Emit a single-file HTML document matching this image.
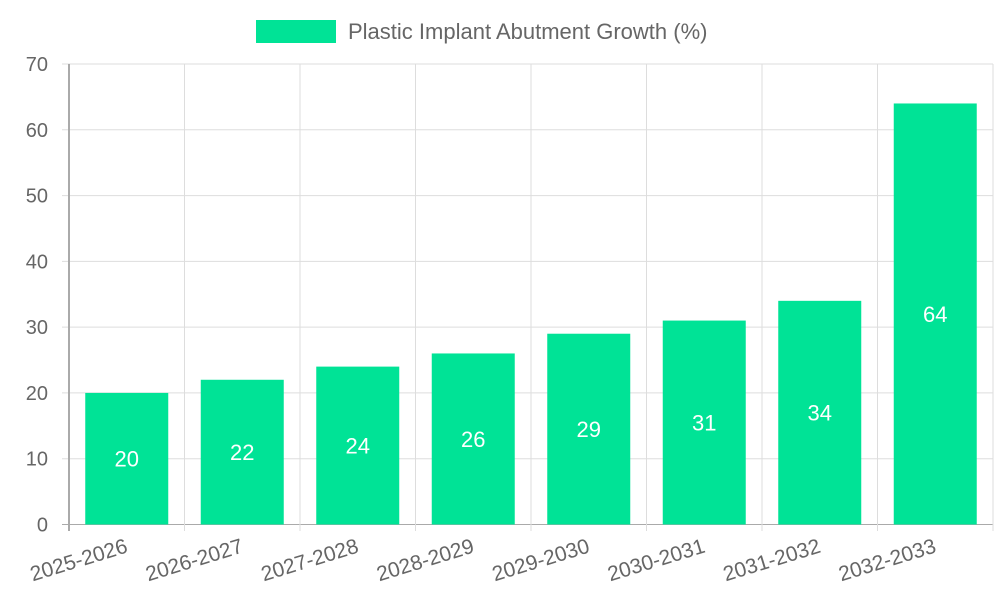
<!DOCTYPE html>
<html><head><meta charset="utf-8"><style>
body{margin:0;background:#fff}
svg{display:block;font-family:"Liberation Sans",sans-serif}
</style></head><body>
<svg id="c" width="1000" height="600"></svg>
<script>
const categories=["2025-2026","2026-2027","2027-2028","2028-2029","2029-2030","2030-2031","2031-2032","2032-2033"];
const values=[20,22,24,26,29,31,34,64];
const yTicks=[0,10,20,30,40,50,60,70];
const svg=document.getElementById('c');
const NS='http://www.w3.org/2000/svg';
const L=69,R=993,T=64,B=524.5,yMax=70;
const bw=(R-L)/categories.length;
const y=v=>B-(B-T)*v/yMax;
const x=i=>L+bw*i;
function mk(t,a,p){const e=document.createElementNS(NS,t);for(const k in a)e.setAttribute(k,a[k]);(p||svg).appendChild(e);return e;}
// legend
const lg=mk('g',{});


mk('rect',{x:256,y:20,width:80,height:23,fill:'#00e396'},lg);
const lt=mk('text',{x:348,y:39,'font-size':22,fill:'#666'},lg);lt.textContent='Plastic Implant Abutment Growth (%)';
// grid
yTicks.forEach(v=>{
 const g=mk('line',{x1:62,x2:R,y1:y(v),y2:y(v),stroke:v===0?'#aaa':'#ddd','stroke-width':1});
 
 
 const t=mk('text',{x:48,y:y(v)+7,'font-size':20,fill:'#666','text-anchor':'end'});t.textContent=v;
 
 
});
for(let i=0;i<=categories.length;i++){
 const g=mk('line',{x1:x(i),x2:x(i),y1:T,y2:531,stroke:i===0?'#aaa':'#ddd','stroke-width':i===0?2:1});
 
 
}
categories.forEach((c,i)=>{
 const cx=x(i)+bw/2;
 const r=mk('rect',{x:cx-41.5,y:y(values[i]),width:83,height:B-y(values[i]),fill:'#00e396'});
 
 
 const vt=mk('text',{x:cx,y:(y(values[i])+B)/2+8,'font-size':22,fill:'#fff','text-anchor':'middle'});vt.textContent=values[i];
 
 
 const t=mk('text',{x:cx+2,y:552,'font-size':21,fill:'#666','text-anchor':'end',transform:`rotate(-17 ${cx+2} 552)`});t.textContent=c;
 
 
});
</script>
</body></html>
